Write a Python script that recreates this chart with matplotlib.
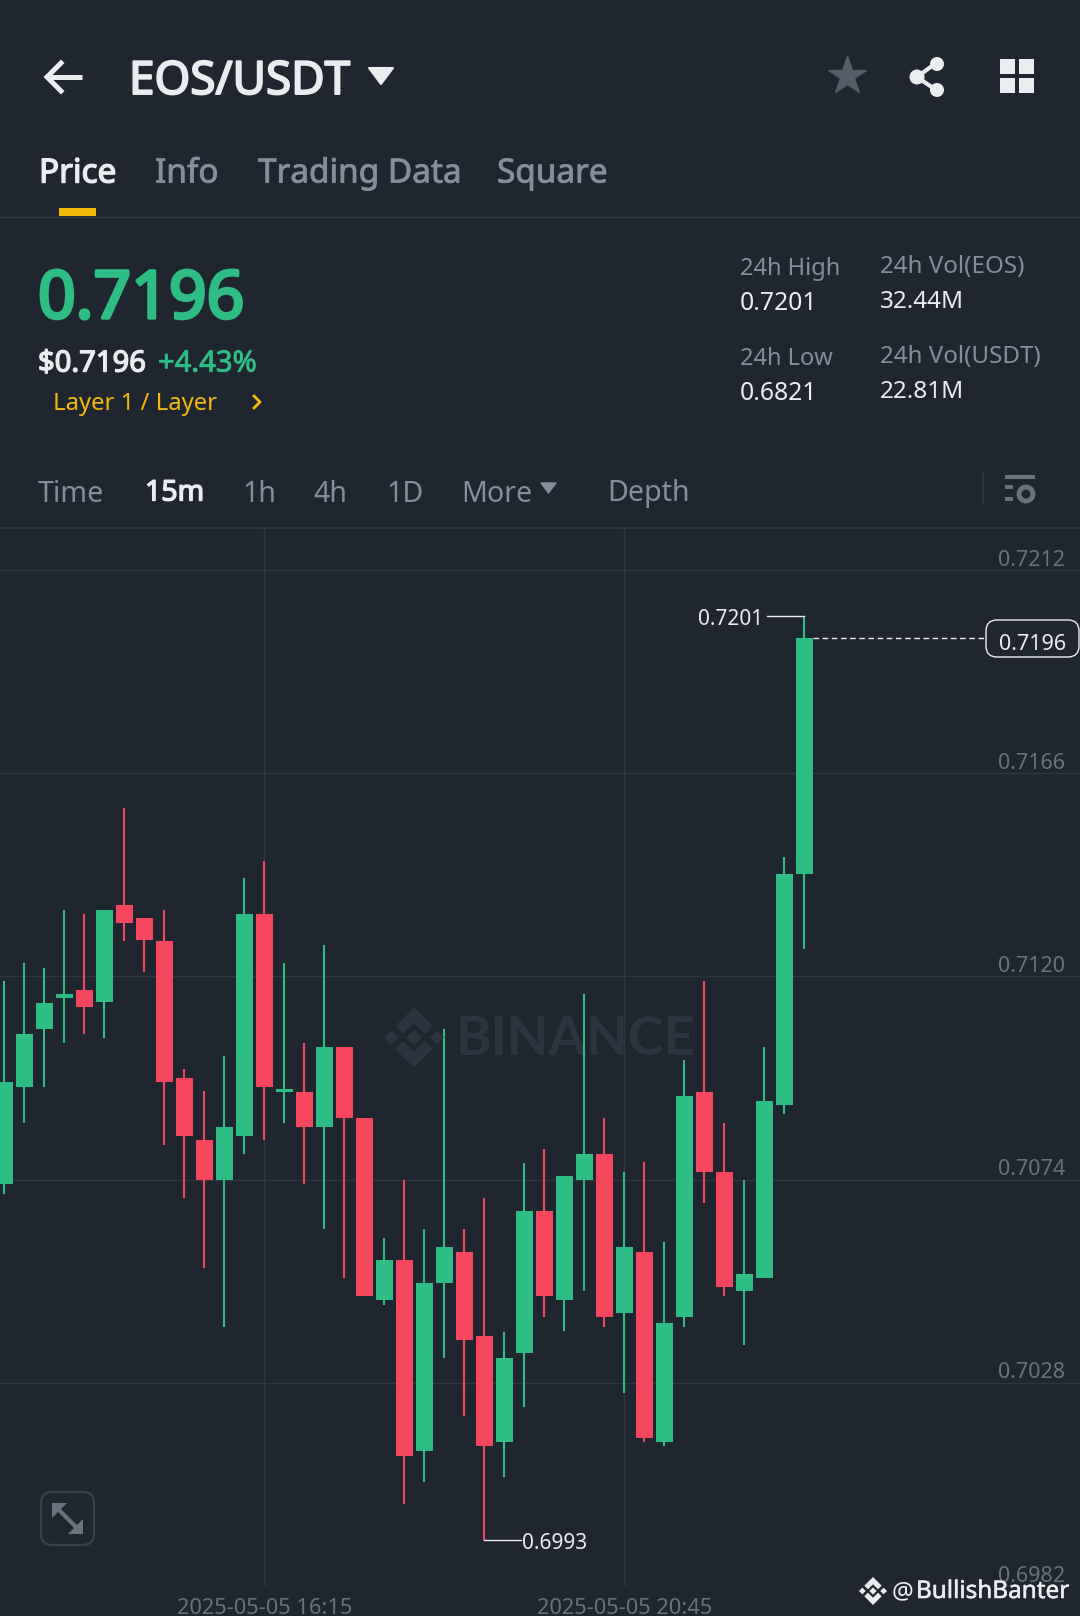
import numpy as np
import matplotlib
matplotlib.use('Agg')
import matplotlib.pyplot as plt
import matplotlib.patheffects as pe
from matplotlib.patches import Polygon, Rectangle, FancyBboxPatch, Circle

plt.rcParams['font.family'] = ['Noto Sans', 'DejaVu Sans']

# velas de 15 minutos
opens = [0.70729, 0.70950, 0.71081, 0.71151, 0.71170, 0.71141, 0.71361, 0.71332, 0.71281, 0.70970,
         0.70829, 0.70739, 0.70839, 0.71341, 0.70939, 0.70939, 0.70860, 0.71040, 0.70880, 0.70467,
         0.70557, 0.70125, 0.70507, 0.70577, 0.70387, 0.70146, 0.70347, 0.70668, 0.70467, 0.70738,
         0.70799, 0.70437, 0.70577, 0.70146, 0.70428, 0.70939, 0.70758, 0.70487, 0.70518, 0.70910,
         0.71432]
closes = [0.70960, 0.71070, 0.71140, 0.71160, 0.71130, 0.71351, 0.71322, 0.71282, 0.70960, 0.70839,
          0.70739, 0.70859, 0.71341, 0.70950, 0.70945, 0.70860, 0.71040, 0.70880, 0.70477, 0.70557,
          0.70115, 0.70507, 0.70587, 0.70377, 0.70136, 0.70336, 0.70668, 0.70477, 0.70748, 0.70799,
          0.70428, 0.70587, 0.70156, 0.70416, 0.70929, 0.70758, 0.70497, 0.70527, 0.70919, 0.71432,
          0.71965]
highs = [0.71190, 0.71230, 0.71220, 0.71351, 0.71341, 0.71351, 0.71582, 0.71332, 0.71351, 0.70990,
         0.70940, 0.71020, 0.71422, 0.71462, 0.71230, 0.71050, 0.71270, 0.71040, 0.70880, 0.70608,
         0.70738, 0.70628, 0.71080, 0.70628, 0.70698, 0.70396, 0.70778, 0.70809, 0.70748, 0.71160,
         0.70879, 0.70758, 0.70779, 0.70598, 0.71010, 0.71190, 0.70868, 0.70738, 0.71040, 0.71471,
         0.72015]
lows = [0.70708, 0.70869, 0.70950, 0.71050, 0.71070, 0.71061, 0.71281, 0.71210, 0.70819, 0.70699,
        0.70539, 0.70407, 0.70799, 0.70829, 0.70869, 0.70729, 0.70629, 0.70518, 0.70477, 0.70457,
        0.70005, 0.70056, 0.70337, 0.70205, 0.69925, 0.70066, 0.70226, 0.70428, 0.70397, 0.70487,
        0.70407, 0.70256, 0.70146, 0.70136, 0.70407, 0.70688, 0.70477, 0.70366, 0.70518, 0.70889,
        0.71261]

price_ticks = [0.7212, 0.7166, 0.7120, 0.7074, 0.7028, 0.6982]
time_ticks = [13, 31]
time_labels = ['2025-05-05 16:15', '2025-05-05 20:45']
last_label = '0.7196'
max_label = '0.7201'
min_label = '0.6993'
max_idx = 40
min_idx = 24

tabs = ['Price', 'Info', 'Trading Data', 'Square']
tab_x = [39, 155, 258, 497]
intervals = ['Time', '15m', '1h', '4h', '1D', 'More', 'Depth']
interval_x = [38, 145, 242, 313, 386, 461, 607]

BG = '#1F2630'
GRID = '#2F3640'
GREEN = '#2EBD85'
RED = '#F6465D'
GRAY = '#848E9C'
AXIS_GRAY = '#6A727E'
WHITE = '#EAECEF'
GOLD = '#F0B90B'
MARK = '#2E343F'

W, H = 1080, 1616
fig = plt.figure(figsize=(W / 100, H / 100), dpi=100, facecolor=BG)

# grafico: de y=528 a y=1586 en pixeles
ax = fig.add_axes([0, (H - 1586) / H, 1, (1586 - 528) / H], facecolor=BG)
ax.set_xlim(-0.2165, 53.7835)
ax.set_ylim(0.6982, 0.7212 + 42 / 44174)
for s in ax.spines.values():
    s.set_visible(False)
ax.set_xticks([])
ax.set_yticks([])

for p in price_ticks:
    ax.axhline(p, color=GRID, lw=1, zorder=1)
for t in time_ticks:
    ax.axvline(t, color=GRID, lw=1, zorder=1)

# velas
idx = np.arange(len(opens))
o = np.array(opens)
c = np.array(closes)
colors = [GREEN if c[i] >= o[i] else RED for i in idx]
ax.vlines(idx, lows, highs, colors=colors, lw=1.5, zorder=3)
ax.bar(idx, np.abs(c - o), bottom=np.minimum(o, c), width=0.865, color=colors, zorder=4)

# maximo, minimo y ultimo precio
ax.plot([max_idx - 1.85, max_idx], [highs[max_idx], highs[max_idx]], color=WHITE, lw=1, zorder=5)
ax.plot([min_idx, min_idx + 1.85], [lows[min_idx], lows[min_idx]], color=WHITE, lw=1, zorder=5)
ax.plot([max_idx + 0.45, 49.05], [closes[max_idx], closes[max_idx]], color=WHITE, lw=1, ls=(0, (4, 2.6)), zorder=5)
ax.annotate(max_label, (max_idx - 2.05, highs[max_idx]), xytext=(0, -2.5), textcoords='offset points',
            color=WHITE, fontsize=15, ha='right', va='center', zorder=6)
ax.annotate(min_label, (min_idx + 1.9, lows[min_idx]), xytext=(0, -2.5), textcoords='offset points',
            color=WHITE, fontsize=15, ha='left', va='center', zorder=6)
ax.text(456 / 20 - 0.2165, 0.7212 - (1040 - 570) / 44174, 'BINANCE', color=MARK, fontsize=39,
        fontweight='bold', family='Lato', ha='left', va='center', zorder=2)

# capa de interfaz en pixeles
ax.set_zorder(1)
ui = fig.add_axes([0, 0, 1, 1], facecolor='none', zorder=2)
ui.set_xlim(0, W)
ui.set_ylim(H, 0)
ui.axis('off')


def txt(x, y, s, color=WHITE, size=16, bold=0, ha='left', z=8):
    t = ui.text(x, y + 3, s, color=color, fontsize=size, ha=ha, va='center', zorder=z)
    # Noto Sans solo trae el peso regular: la negrita se simula con un trazo
    if bold:
        t.set_path_effects([pe.withStroke(linewidth=bold, foreground=color)])
    return t


def binance_logo(cx, cy, r, color, z=2):
    def d(x, y, a):
        ui.add_patch(Polygon([(cx + x * r, cy + (y - a) * r), (cx + (x + a) * r, cy + y * r),
                              (cx + x * r, cy + (y + a) * r), (cx + (x - a) * r, cy + y * r)],
                             fc=color, ec='none', zorder=z))
    d(0, 0, 0.26)
    d(-0.76, 0, 0.24)
    d(0.76, 0, 0.24)
    top = [(0, -1), (0.62, -0.38), (0.36, -0.12), (0, -0.48), (-0.36, -0.12), (-0.62, -0.38)]
    ui.add_patch(Polygon([(cx + a * r, cy + b * r) for a, b in top], fc=color, ec='none', zorder=z))
    ui.add_patch(Polygon([(cx + a * r, cy - b * r) for a, b in top], fc=color, ec='none', zorder=z))


# cabecera
ui.plot([47, 82], [77, 77], color=WHITE, lw=3.6, solid_capstyle='butt')
ui.plot([61, 47, 61], [63, 77, 91], color=WHITE, lw=3.6, solid_joinstyle='miter')
txt(129, 79, 'EOS/USDT', size=33, bold=1.4)
ui.add_patch(Polygon([(369, 68), (393, 68), (381, 84)], fc=WHITE, ec=WHITE, lw=1.5, joinstyle='round'))
ui.plot(847, 76, marker='*', ms=29, color='#565D68', mec='#565D68')
ui.plot([936, 917, 936], [63, 77, 90], color=WHITE, lw=3)
for px, py, pr in [(937, 64, 7), (917, 77, 7.5), (937, 90, 7)]:
    ui.add_patch(Circle((px, py), pr, fc=WHITE, ec='none'))
for px, py in [(1000, 59), (1019, 59), (1000, 78), (1019, 78)]:
    ui.add_patch(Rectangle((px, py), 15, 15, fc=WHITE, ec='none'))

# pestanas
for name, x in zip(tabs, tab_x):
    if name == 'Price':
        txt(x, 171, name, size=24, bold=1)
    else:
        txt(x, 171, name, color=GRAY, size=24, bold=0.6)
ui.add_patch(Rectangle((59, 208), 37, 8, fc=GOLD, ec='none'))
ui.plot([0, W], [217, 217], color=GRID, lw=1)

# resumen de precio
txt(38, 298, last_label, color=GREEN, size=47.5, bold=2.4)
txt(38, 361, '$' + last_label, size=21, bold=1)
txt(158, 361, '+4.43%', color=GREEN, size=21, bold=0.6)
txt(53, 401, 'Layer 1 / Layer', color=GOLD, size=17.2)
ui.plot([254, 260, 254], [396, 402, 408], color=GOLD, lw=2)

txt(740, 266, '24h High', color=GRAY, size=17)
txt(740, 300, '0.7201', size=17.8)
txt(740, 356, '24h Low', color=GRAY, size=17)
txt(740, 391, '0.6821', size=17.8)
txt(880, 264, '24h Vol(EOS)', color=GRAY, size=17.4)
txt(880, 299, '32.44M', size=17.5)
txt(880, 354, '24h Vol(USDT)', color=GRAY, size=17.4)
txt(880, 389, '22.81M', size=17.5)

# intervalos
for name, x in zip(intervals, interval_x):
    if name == '15m':
        txt(x, 490, name, size=20.5, bold=1)
    elif name == 'Depth':
        txt(x, 490, name, color=GRAY, size=20.6)
    else:
        txt(x, 492, name, color=GRAY, size=20.6)
ui.add_patch(Polygon([(541, 483), (556, 483), (548.5, 493)], fc=GRAY, ec=GRAY, lw=1, joinstyle='round'))
ui.plot([983, 983], [474, 503], color=GRID, lw=1.5)
ui.add_patch(Rectangle((1005, 475), 30, 4, fc=AXIS_GRAY, ec='none'))
ui.add_patch(Rectangle((1005, 485), 8, 4, fc=AXIS_GRAY, ec='none'))
ui.add_patch(Rectangle((1005, 497), 8, 4, fc=AXIS_GRAY, ec='none'))
ui.add_patch(Circle((1026, 494), 7, fc='none', ec=AXIS_GRAY, lw=3.5))
ui.plot([0, W], [528, 528], color=GRID, lw=1.5)

# etiquetas de los ejes
for p in price_ticks:
    y = 570 + (0.7212 - p) * 44174 - 13
    txt(1065, y, f'{p:.4f}', color=AXIS_GRAY, size=15.5, ha='right', z=7)
for t, label in zip(time_ticks, time_labels):
    txt(4.33 + 20 * t, 1605, label, color=AXIS_GRAY, size=15.7, ha='center', z=7)

# etiqueta del ultimo precio
ui.add_patch(FancyBboxPatch((986, 620), 93, 37, boxstyle='round,pad=0,rounding_size=11', fc=BG, ec=WHITE, lw=1))
txt(1032.5, 642, last_label, size=15.5, ha='center')

# boton de expandir
ui.add_patch(FancyBboxPatch((41, 1492), 53, 53, boxstyle='round,pad=0,rounding_size=11', fc='none', ec='#3A414B', lw=1.6))
ui.add_patch(Polygon([(52, 1503), (67, 1503), (52, 1518)], fc=AXIS_GRAY, ec='none'))
ui.add_patch(Polygon([(83, 1534), (68, 1534), (83, 1519)], fc=AXIS_GRAY, ec='none'))
ui.plot([56, 66], [1507, 1517], color=AXIS_GRAY, lw=3)
ui.plot([69, 79], [1520, 1530], color=AXIS_GRAY, lw=3)

# logos y firma
binance_logo(414, 1037.5, 30, MARK, z=0.5)
binance_logo(873, 1591, 14, WHITE, z=9)
txt(892, 1589, '@', size=17.5, z=9)
txt(916, 1589, 'BullishBanter', size=17.5, bold=0.4, z=9)

fig.savefig('out.png', dpi=100, facecolor=BG)
